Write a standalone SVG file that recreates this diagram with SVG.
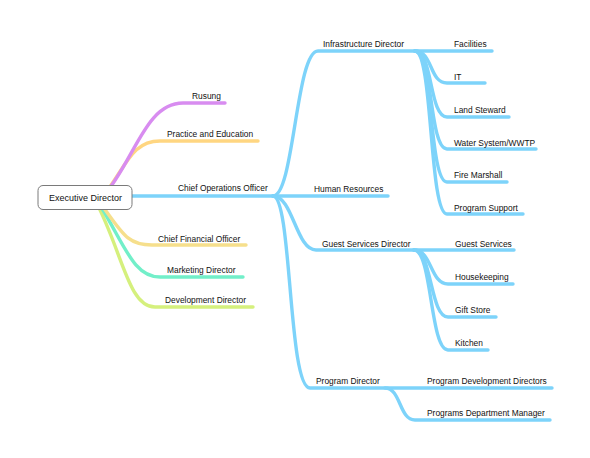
<svg xmlns="http://www.w3.org/2000/svg" width="590" height="458" viewBox="0 0 590 458">
<style>
  text { font-family: "Liberation Sans", Arial, sans-serif; font-size: 8.4px; fill: #111; }
  .c { fill: none; stroke-width: 3.4; stroke-linecap: round; stroke-linejoin: round; }
  .blue { stroke: #7dd3fa; }
  .purple { stroke: #d88cf0; }
  .orange { stroke: #ffd681; }
  .yellow { stroke: #f6df8c; }
  .teal { stroke: #72efc9; }
  .green { stroke: #d5f07d; }
  .root { fill: #fff; stroke: #7a7a7a; stroke-width: 1; }
</style>
<rect width="590" height="458" fill="#fff"/>
<g id="connectors">
  <path class="c orange" d="M102,198 C127,165 132,141 160,141 H258"/>
  <path class="c purple" d="M102,198 C135,160 145,103 183,103 H225"/>
  <path class="c green" d="M95,200 C122,250 128,307 155,307 H253"/>
  <path class="c teal" d="M97,200 C125,245 133,277 160,277 H243"/>
  <path class="c yellow" d="M98,200 C122,232 126,245 152,245 H246"/>
  <path class="c blue" d="M132,196 H273"/>
  <path class="c blue" d="M273,196 C294,196 296,51 318,51 H415"/>
  <path class="c blue" d="M273,196 H388"/>
  <path class="c blue" d="M273,196 C293,196 296,250 316,250 H414"/>
  <path class="c blue" d="M273,196 C292,196 288,388 310,388 H552"/>
  <path class="c blue" d="M415,51 H492"/>
  <path class="c blue" d="M415,51 C433,51 429,83 447,83 H485"/>
  <path class="c blue" d="M415,51 C433,51 429,117 447,117 H509"/>
  <path class="c blue" d="M415,51 C433,51 429,149 447,149 H536"/>
  <path class="c blue" d="M415,51 C433,51 429,182 447,182 H507"/>
  <path class="c blue" d="M415,51 C433,51 429,214 447,214 H523"/>
  <path class="c blue" d="M414,250 H514"/>
  <path class="c blue" d="M414,250 C432,250 430,284 448,284 H513"/>
  <path class="c blue" d="M414,250 C432,250 430,317 448,317 H496"/>
  <path class="c blue" d="M414,250 C432,250 430,350 448,350 H488"/>
  <path class="c blue" d="M385,388 C401,388 399,420 415,420 H550"/>
</g>
<g id="executive-director">
  <rect class="root" x="38" y="185.5" width="94" height="24" rx="5"/>
  <text x="49" y="200.5" style="font-size:9px">Executive Director</text>
</g>
<g id="rusung"><text x="192" y="99">Rusung</text></g>
<g id="practice-and-education"><text x="167" y="137">Practice and Education</text></g>
<g id="chief-operations-officer"><text x="178" y="191">Chief Operations Officer</text></g>
<g id="chief-financial-officer"><text x="158" y="242">Chief Financial Officer</text></g>
<g id="marketing-director"><text x="167" y="273">Marketing Director</text></g>
<g id="development-director"><text x="165" y="303">Development Director</text></g>
<g id="infrastructure-director"><text x="323" y="47">Infrastructure Director</text></g>
<g id="facilities"><text x="454" y="47">Facilities</text></g>
<g id="it"><text x="454" y="80">IT</text></g>
<g id="land-steward"><text x="454" y="113">Land Steward</text></g>
<g id="water-system"><text x="454" y="146">Water System/WWTP</text></g>
<g id="fire-marshall"><text x="454" y="178">Fire Marshall</text></g>
<g id="program-support"><text x="454" y="211">Program Support</text></g>
<g id="human-resources"><text x="314" y="192">Human Resources</text></g>
<g id="guest-services-director"><text x="322" y="247">Guest Services Director</text></g>
<g id="guest-services"><text x="455" y="247">Guest Services</text></g>
<g id="housekeeping"><text x="455" y="280">Housekeeping</text></g>
<g id="gift-store"><text x="455" y="313">Gift Store</text></g>
<g id="kitchen"><text x="455" y="346">Kitchen</text></g>
<g id="program-director"><text x="316" y="384">Program Director</text></g>
<g id="program-development-directors"><text x="427" y="384">Program Development Directors</text></g>
<g id="programs-department-manager"><text x="427" y="416">Programs Department Manager</text></g>
</svg>
